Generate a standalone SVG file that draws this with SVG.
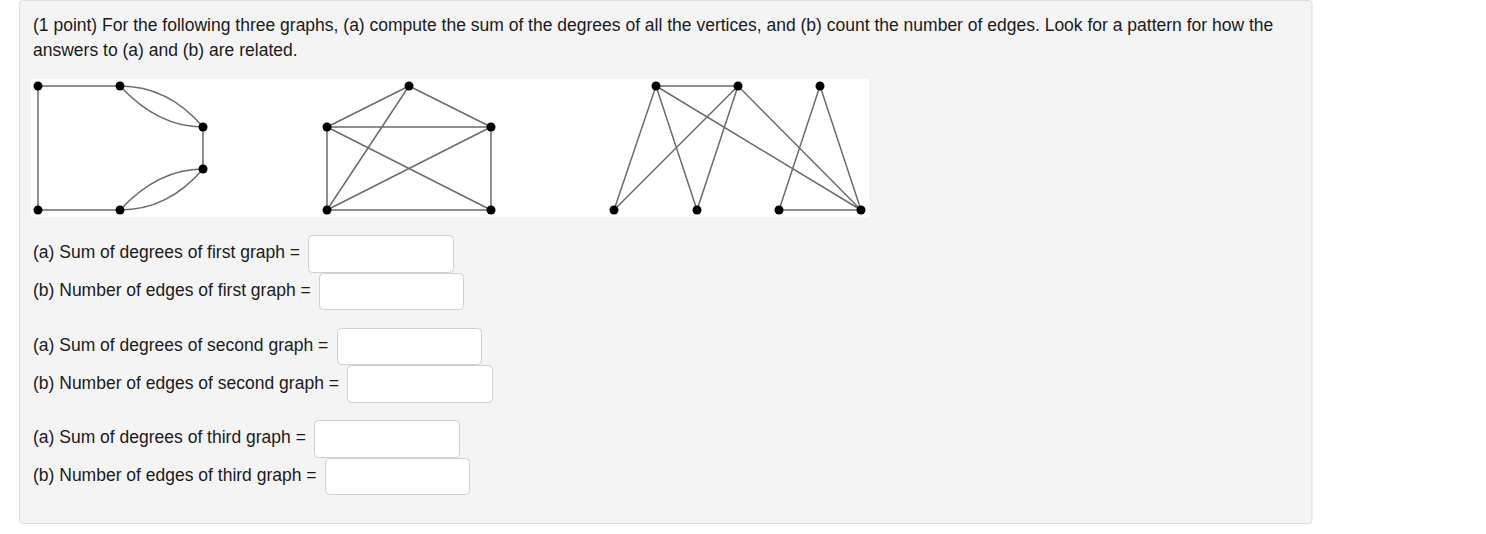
<svg xmlns="http://www.w3.org/2000/svg" width="1486" height="534" viewBox="0 0 1486 534">
<style>
text{font-family:"Liberation Sans",Arial,sans-serif;font-size:17.5px;fill:#1a1a1a}
.e{stroke:#6b6b6b;stroke-width:1.5;fill:none}
.n{fill:#000}
.box{fill:#fff;stroke:#cfcfcf;stroke-width:1}
</style>
<rect width="1486" height="534" fill="#fff"/>
<rect x="19.5" y="0.5" width="1292.5" height="523" rx="3" fill="#f4f4f4" stroke="#dddddd"/>
<text x="33" y="31">(1 point) For the following three graphs, (a) compute the sum of the degrees of all the vertices, and (b) count the number of edges. Look for a pattern for how the</text>
<text x="33" y="56">answers to (a) and (b) are related.</text>
<rect x="31" y="79" width="838" height="138" fill="#fff"/>
<g id="connectors">
<path class="e" d="M38,86 H120 M38,86 V210 M38,210 H120 M203,127 V169"/>
<path class="e" d="M120,86 Q168,86 203,127 M120,86 Q158,127 203,127"/>
<path class="e" d="M120,210 Q168,210 203,169 M120,210 Q158,169 203,169"/>
<path class="e" d="M409,86 L327,127 M409,86 L491,127 M409,86 L327,210 M327,127 H491 M327,127 V210 M491,127 V210 M327,127 L491,210 M491,127 L327,210 M327,210 H491"/>
<path class="e" d="M656,86 H738 M656,86 L614,210 M656,86 L697,210 M656,86 L861,210 M738,86 L614,210 M738,86 L697,210 M738,86 L861,210 M820,86 L779,210 M820,86 L861,210 M779,210 H861"/>
</g>
<g id="g1-nodes">
<circle id="g1a" class="n" cx="38" cy="86" r="4.5"/>
<circle id="g1b" class="n" cx="120" cy="86" r="4.5"/>
<circle id="g1c" class="n" cx="203" cy="127" r="4.5"/>
<circle id="g1d" class="n" cx="203" cy="169" r="4.5"/>
<circle id="g1e" class="n" cx="38" cy="210" r="4.5"/>
<circle id="g1f" class="n" cx="120" cy="210" r="4.5"/>
</g>
<g id="g2-nodes">
<circle id="g2a" class="n" cx="409" cy="86" r="4.5"/>
<circle id="g2b" class="n" cx="327" cy="127" r="4.5"/>
<circle id="g2c" class="n" cx="491" cy="127" r="4.5"/>
<circle id="g2d" class="n" cx="327" cy="210" r="4.5"/>
<circle id="g2e" class="n" cx="491" cy="210" r="4.5"/>
</g>
<g id="g3-nodes">
<circle id="g3a" class="n" cx="656" cy="86" r="4.5"/>
<circle id="g3b" class="n" cx="738" cy="86" r="4.5"/>
<circle id="g3c" class="n" cx="820" cy="86" r="4.5"/>
<circle id="g3d" class="n" cx="614" cy="210" r="4.5"/>
<circle id="g3e" class="n" cx="697" cy="210" r="4.5"/>
<circle id="g3f" class="n" cx="779" cy="210" r="4.5"/>
<circle id="g3g" class="n" cx="861" cy="210" r="4.5"/>
</g>
<g id="q1">
<text x="33" y="258">(a) Sum of degrees of first graph =</text>
<rect class="box" x="308.5" y="235.5" width="145" height="37" rx="4"/>
<text x="33" y="296">(b) Number of edges of first graph =</text>
<rect class="box" x="319.5" y="273.5" width="144" height="36" rx="4"/>
</g>
<g id="q2">
<text x="33" y="351">(a) Sum of degrees of second graph =</text>
<rect class="box" x="337.5" y="328.5" width="144" height="36" rx="4"/>
<text x="33" y="389">(b) Number of edges of second graph =</text>
<rect class="box" x="347.5" y="365.5" width="145" height="37" rx="4"/>
</g>
<g id="q3">
<text x="33" y="443">(a) Sum of degrees of third graph =</text>
<rect class="box" x="314.5" y="420.5" width="145" height="37" rx="4"/>
<text x="33" y="481">(b) Number of edges of third graph =</text>
<rect class="box" x="325.5" y="458.5" width="144" height="36" rx="4"/>
</g>
</svg>
